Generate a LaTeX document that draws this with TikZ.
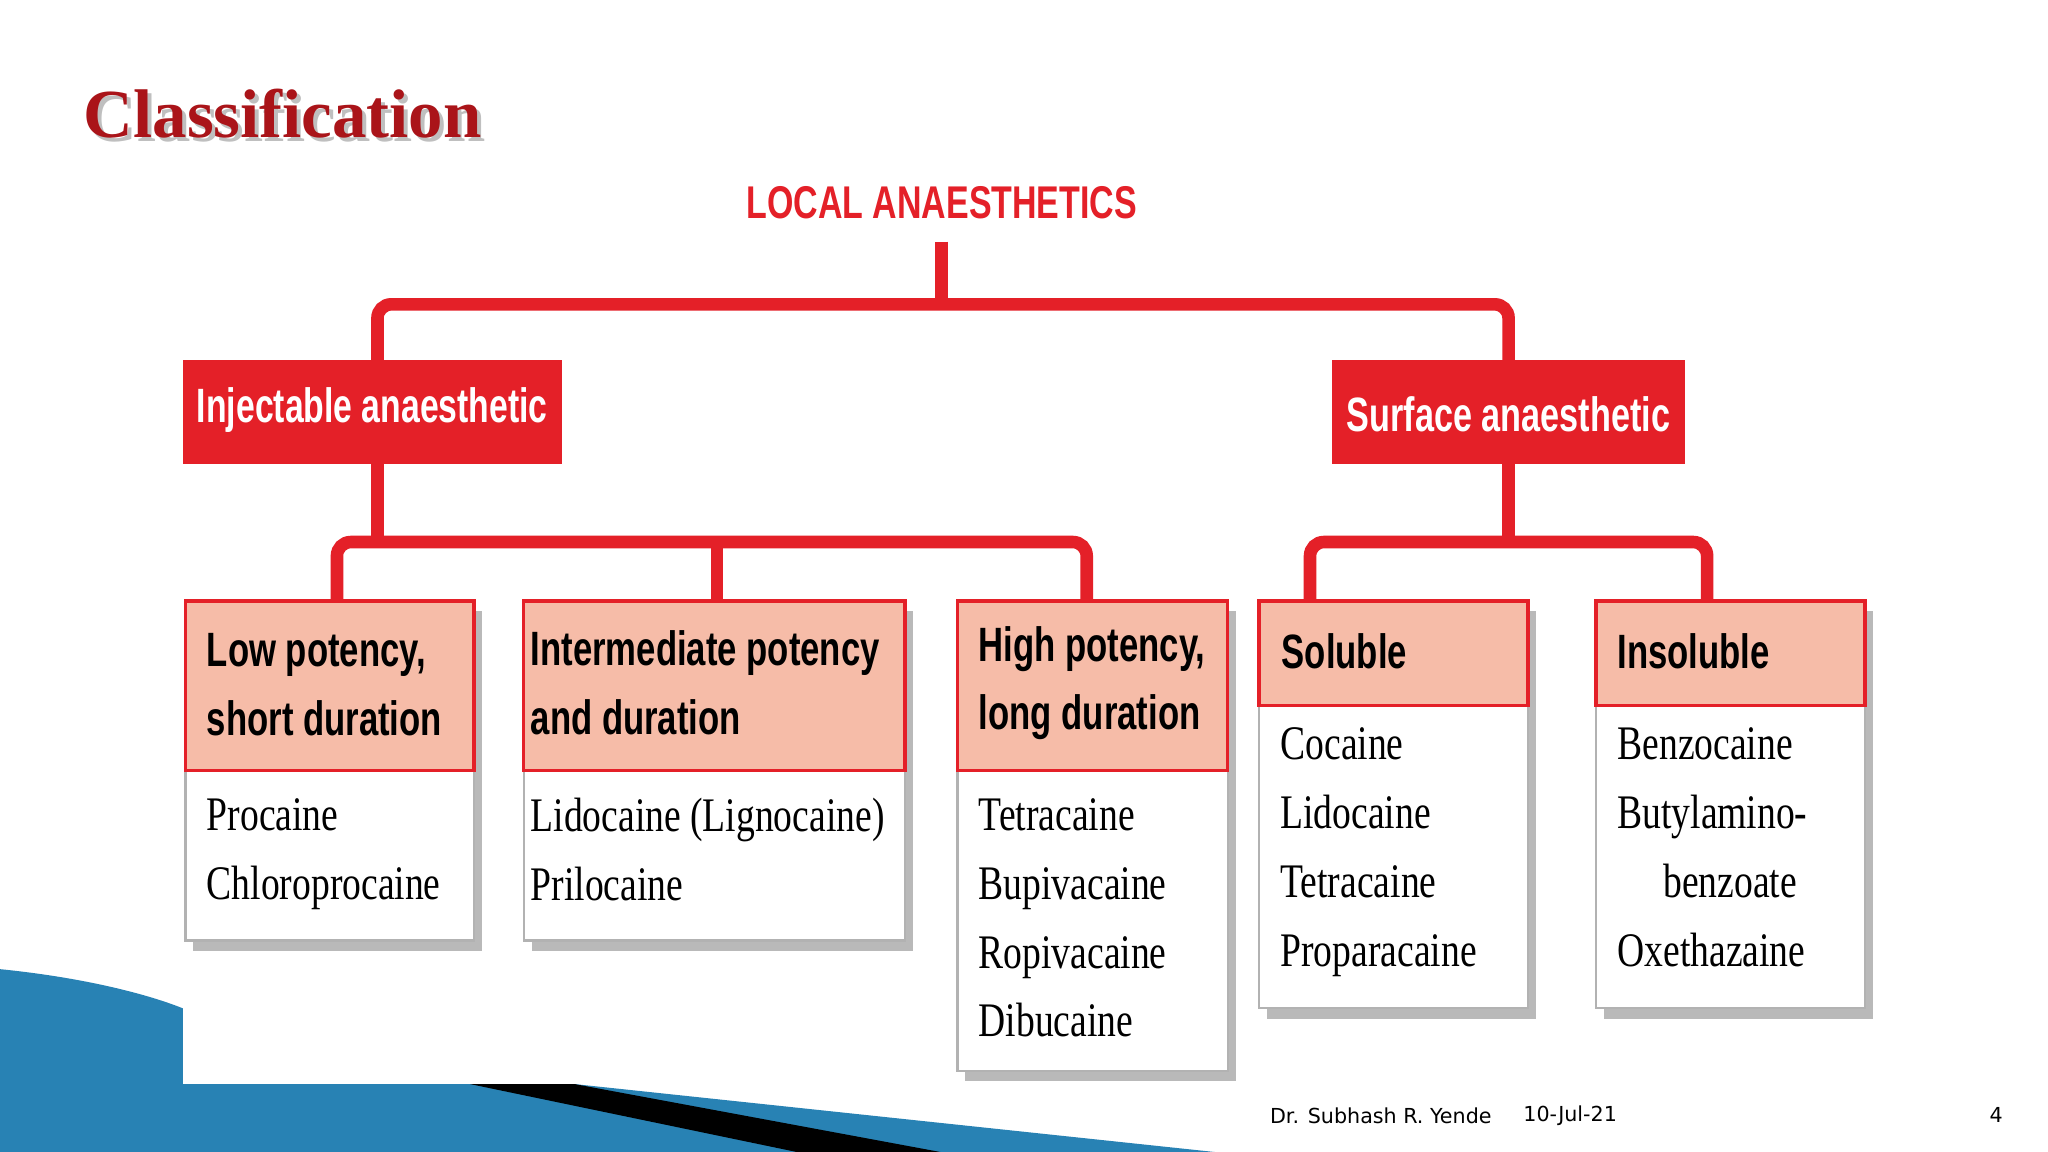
\documentclass[tikz,border=0pt]{standalone}
\usepackage{fontspec}
\setmainfont{Liberation Serif}
\setsansfont{Liberation Sans}
\newfontfamily\footfont{DejaVu Sans}
\definecolor{lred}{RGB}{228,32,40}
\definecolor{salmon}{RGB}{246,188,168}
\definecolor{tred}{RGB}{170,20,25}
\definecolor{swblue}{RGB}{40,130,180}
\tikzset{
  conn/.style={draw=lred,line width=5.5pt,rounded corners=6pt},
  redbox/.style={fill=lred,draw=none},
  hdr/.style={fill=salmon,draw=lred,line width=1.5pt},
  bodybox/.style={fill=white,draw=gray!60,line width=1pt},
  shad/.style={fill=gray!55,draw=none},
  htxt/.style={anchor=west,font=\sffamily\bfseries\fontsize{21}{30}\selectfont,align=left,inner sep=0pt},
  btxt/.style={anchor=north west,font=\fontsize{21}{30}\selectfont,align=left,inner sep=0pt},
}
\newcommand{\cond}[1]{\scalebox{0.72}[1]{#1}}
\newcommand{\bcond}[1]{\scalebox{0.78}[1]{#1}}
\begin{document}
\begin{tikzpicture}[x=0.02cm,y=-0.02cm]
\useasboundingbox (0,0) rectangle (1568,882);
\fill[white] (0,0) rectangle (1568,882);
% swoosh
\fill[swblue] (0,742) .. controls (60,748) and (110,760) .. (140,772) -- (140,830) -- (440,830) -- (930,882) -- (0,882) -- cycle;
\fill[black] (360,830) -- (440,830) -- (720,882) -- (610,882) -- cycle;
% title
\node[anchor=west,text=gray!50,font=\bfseries\fontsize{30}{32}\selectfont] at (61,90) {Classification};
\node[anchor=west,text=tred,font=\bfseries\fontsize{30}{32}\selectfont] (title) at (58,87) {Classification};
\node[text=lred,font=\sffamily\bfseries\fontsize{20}{24}\selectfont,inner sep=0pt] (root) at (721,155) {\scalebox{0.74}[1]{LOCAL ANAESTHETICS}};
% connectors
\coordinate (r0) at (721,185);
\coordinate (j0) at (289,276);
\coordinate (s0) at (1155,276);
\draw[conn] (r0) -- (721,233);
\draw[conn] (j0) -- (289,233) -- (1155,233) -- (s0);
\draw[conn] (289,355) -- (289,415);
\draw[conn] (258,462) -- (258,415) -- (832,415) -- (832,462);
\draw[conn] (549,415) -- (549,462);
\draw[conn] (1155,355) -- (1155,415);
\draw[conn] (1003,460) -- (1003,415) -- (1307,415) -- (1307,460);
% level 1 boxes
\fill[redbox] (140,276) rectangle (430,355);
\node[text=white,font=\sffamily\bfseries\fontsize{21}{24}\selectfont,inner sep=0pt] (inj) at (285,314) {\scalebox{0.7}[1]{Injectable anaesthetic}};
\fill[redbox] (1020,276) rectangle (1290,355);
\node[text=white,font=\sffamily\bfseries\fontsize{21}{24}\selectfont,inner sep=0pt] (surf) at (1155,317) {\scalebox{0.71}[1]{Surface anaesthetic}};
% leaf boxes: shadow, body, header
\foreach \xa/\xb/\hb/\bb in {142/363/590/720, 401/693/590/720, 733/940/590/820, 964/1170/540/772, 1222/1428/540/772}{
  \fill[shad] (\xa+6,460+8) rectangle (\xb+6,\bb+8);
  \draw[bodybox] (\xa,\hb) rectangle (\xb,\bb);
  \draw[hdr] (\xa,460) rectangle (\xb,\hb);
}
\node[htxt] (h1) at (158,524) {\cond{Low potency,}\\\cond{short duration}};
\node[htxt] (h2) at (406,523) {\cond{Intermediate potency}\\\cond{and duration}};
\node[htxt] (h3) at (749,523) {\cond{High potency,}\\\cond{long duration}};
\node[htxt] (h4) at (981,499) {\cond{Soluble}};
\node[htxt] (h5) at (1238,499) {\cond{Insoluble}};
\node[btxt] (b1) at (158,611) {\bcond{Procaine}\\\bcond{Chloroprocaine}};
\node[btxt] (b2) at (406,611) {\bcond{Lidocaine (Lignocaine)}\\\bcond{Prilocaine}};
\node[btxt] (b3) at (749,611) {\bcond{Tetracaine}\\\bcond{Bupivacaine}\\\bcond{Ropivacaine}\\\bcond{Dibucaine}};
\node[btxt] (b4) at (980,557) {\bcond{Cocaine}\\\bcond{Lidocaine}\\\bcond{Tetracaine}\\\bcond{Proparacaine}};
\node[btxt] (b5) at (1238,557) {\bcond{Benzocaine}\\\bcond{Butylamino-}\\\hspace*{20pt}\bcond{benzoate}\\\bcond{Oxethazaine}};
% footer
\node[anchor=west,font=\footfont\fontsize{9}{11}\selectfont,inner sep=0pt] (f1) at (972,854) {Dr. Subhash R. Yende};
\node[anchor=west,font=\footfont\fontsize{9}{11}\selectfont,inner sep=0pt] (f2) at (1166,854) {10-Jul-21};
\node[anchor=west,font=\footfont\fontsize{9}{11}\selectfont,inner sep=0pt] (f3) at (1523,854) {4};
\end{tikzpicture}
\end{document}
